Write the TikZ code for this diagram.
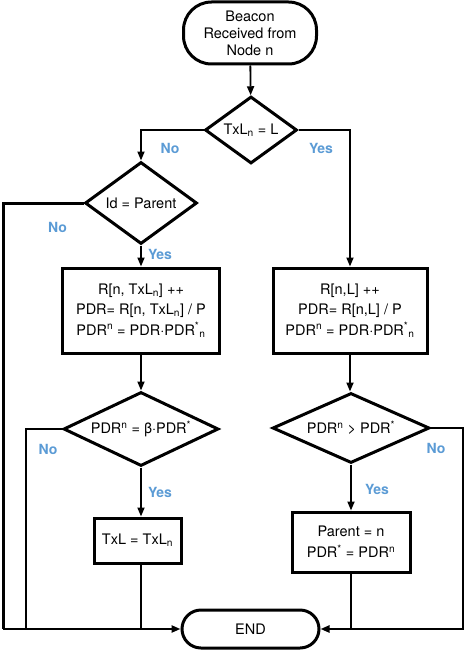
\documentclass[tikz,border=0pt]{standalone}
\usepackage{fontspec}
\setmainfont{TeX Gyre Heros}
\usetikzlibrary{shapes.geometric,arrows.meta}
\definecolor{lblue}{RGB}{91,155,213}
\tikzset{
  shp/.style={draw=black,line width=3pt,fill=white,inner sep=0pt,align=center,font=\fontsize{14.5}{17}\selectfont},
  dia/.style={shp,shape=diamond},
  boxx/.style={shp,rectangle},
  term/.style={shp,rectangle},
  conn/.style={line width=1.8pt},
  arr/.style={conn,-{Triangle[length=9pt,width=7pt]}},
  lbl/.style={text=lblue,font=\fontsize{14}{16}\selectfont\bfseries,inner sep=0pt}
}
\begin{document}
\begin{tikzpicture}[x=1pt,y=-1pt]
\useasboundingbox (0,0) rectangle (466,650);
\node[term,rounded corners=28pt,minimum width=133pt,minimum height=62pt] (start) at (250,33) {Beacon\\Received from\\Node n};
\node[dia,aspect=1.37,minimum width=92pt,minimum height=67pt] (d1) at (251,130) {TxL\textsubscript{n} = L};
\node[dia,aspect=1.37,minimum width=112pt,minimum height=82pt] (d2) at (141,203) {Id = Parent};
\node[boxx,minimum width=157pt,minimum height=85pt,font=\fontsize{14.5}{20.5}\selectfont] (b1) at (141,310.5) {R[n, TxL\textsubscript{n}] ++\\PDR= R[n, TxL\textsubscript{n}] / P\\PDR\textsuperscript{n} = PDR·PDR\textsuperscript{*}\textsubscript{n}};
\node[boxx,minimum width=154pt,minimum height=85pt,font=\fontsize{14.5}{20.5}\selectfont] (b2) at (350,310.5) {R[n,L] ++\\PDR= R[n,L] / P\\PDR\textsuperscript{n} = PDR·PDR\textsuperscript{*}\textsubscript{n}};
\node[dia,aspect=2.1,minimum width=155pt,minimum height=74pt] (d3) at (141,429) {PDR\textsuperscript{n} = β·PDR\textsuperscript{*}};
\node[dia,aspect=2.24,minimum width=157pt,minimum height=70pt] (d4) at (351,428) {PDR\textsuperscript{n} > PDR\textsuperscript{*}};
\node[boxx,minimum width=87pt,minimum height=45pt] (b3) at (137.5,540.5) {TxL = TxL\textsubscript{n}};
\node[boxx,minimum width=118pt,minimum height=60pt,font=\fontsize{14.5}{21}\selectfont] (b4) at (351,542) {Parent = n\\PDR\textsuperscript{*} = PDR\textsuperscript{n}};
\node[term,rounded corners=19pt,minimum width=137pt,minimum height=38pt] (end) at (250.5,629) {END};
\coordinate (l1) at (3,203);
\coordinate (l1b) at (3,629);
\coordinate (l2) at (26,429);
\coordinate (l2b) at (26,629);
\coordinate (r1) at (463,428);
\coordinate (r1b) at (463,629);
\coordinate (m1) at (141,629);
\coordinate (m2) at (351,629);
% connectors
\draw[arr] (start) -- (d1);
\draw[arr] (d1.west) -| (d2.north);
\draw[arr] (d1.east) -| (b2.north);
\draw[arr] (d2.south) -- (b1.north);
\draw[arr] (b1.south) -- (d3.north);
\draw[arr] (b2.south) -- (d4.north-|b2.south);
\draw[arr] (d3.south) -- (d3.south|-b3.north);
\draw[arr] (d4.south) -- (d4.south|-b4.north);
\draw[conn,line width=3pt] (d2.west) -- (l1) -- (l1b);
\draw[conn] (d3.west) -- (l2) -- (l2b);
\draw[conn,line width=2.5pt] (d3.south|-b3.south) -- (m1);
\draw[conn] (b4.south) -- (m2);
\draw[arr,line width=2.5pt] (l1b) -- (end.west);
\draw[arr,line width=2.5pt] (d4.east) -- (r1) -- (r1b) -- (end.east);
% labels
\node[lbl] (n1) at (170,148) {No};
\node[lbl] (y1) at (321,148) {Yes};
\node[lbl] (n2) at (57.5,227) {No};
\node[lbl] (y2) at (160,254) {Yes};
\node[lbl] (n3) at (48,449) {No};
\node[lbl] (y3) at (160,492) {Yes};
\node[lbl] (n4) at (436,448) {No};
\node[lbl] (y4) at (377,489) {Yes};
\end{tikzpicture}
\end{document}
